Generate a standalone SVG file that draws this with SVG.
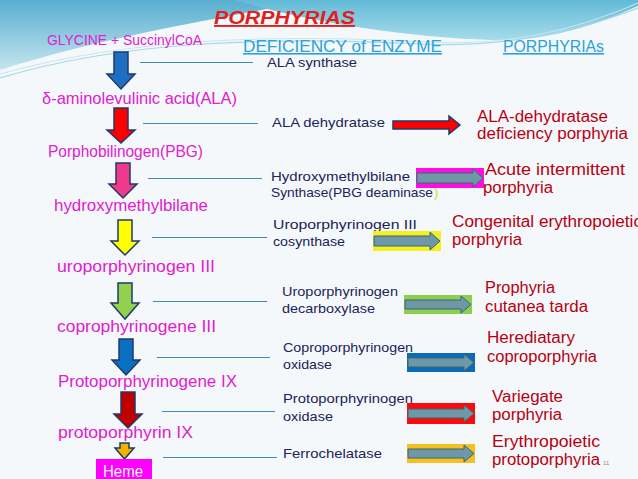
<svg xmlns="http://www.w3.org/2000/svg" width="638" height="479" viewBox="0 0 638 479">
<style>
.m{font-family:"Liberation Sans","DejaVu Sans",sans-serif;font-size:16px;fill:#e020d0}
.e{font-family:"Liberation Sans","DejaVu Sans",sans-serif;font-size:13.5px;fill:#1a2458}
.p{font-family:"Liberation Sans","DejaVu Sans",sans-serif;font-size:16px;fill:#b80010}
.h{font-family:"Liberation Sans","DejaVu Sans",sans-serif;font-size:16px;fill:#2aa2dc;text-decoration:underline}
.ln{stroke:#3b8fb0;stroke-width:1}
.va{stroke:#1f3a6a;stroke-width:1.5;stroke-linejoin:miter}
.ga{fill:#6f98a6;stroke:#3d6474;stroke-width:1}
</style>
<defs>
<linearGradient id="gl" x1="0" y1="0" x2="0" y2="1"><stop offset="0" stop-color="#58aed0"/><stop offset="1" stop-color="#c4e6f0"/></linearGradient>
<linearGradient id="gr" x1="0" y1="0" x2="0" y2="1"><stop offset="0" stop-color="#62bad6"/><stop offset="1" stop-color="#a6dcea"/></linearGradient>
</defs>
<rect width="638" height="479" fill="#f5f8fb"/>
<g id="background">
<path d="M0,0 H310 C230,18 120,32 0,70 Z" fill="url(#gl)"/>
<path d="M235,0 C300,20 400,37 490,40 C545,41 590,28 638,6 V0 Z" fill="url(#gr)"/>
<path d="M0,78 C120,42 260,36 420,44 C500,48 570,34 638,8" fill="none" stroke="#a8d6e6" stroke-width="1.2"/>
<path d="M0,74 C130,38 270,34 430,42 C510,46 575,30 638,3" fill="none" stroke="#c8e6f0" stroke-width="1"/>
</g>
<g id="titles">
<text x="214" y="24" font-family="Liberation Sans,sans-serif" font-size="19" font-weight="bold" font-style="italic" fill="#e0201c" text-decoration="underline" textLength="141" lengthAdjust="spacingAndGlyphs">PORPHYRIAS</text>
<text class="h" x="243" y="52" textLength="199" lengthAdjust="spacingAndGlyphs">DEFICIENCY of ENZYME</text>
<text class="h" x="503" y="52" textLength="101" lengthAdjust="spacingAndGlyphs">PORPHYRIAs</text>
</g>
<g id="connectors">
<line class="ln" x1="140" y1="62.5" x2="253" y2="62.5" stroke="#1f3864"/>
<line class="ln" x1="143" y1="123.5" x2="258" y2="123.5"/>
<line class="ln" x1="148" y1="178.5" x2="262" y2="178.5"/>
<line class="ln" x1="152" y1="237.5" x2="267" y2="237.5"/>
<line class="ln" x1="153" y1="301.5" x2="267" y2="301.5"/>
<line class="ln" x1="157" y1="357.5" x2="270" y2="357.5"/>
<line class="ln" x1="162" y1="411.5" x2="275" y2="411.5"/>
<line class="ln" x1="163" y1="457.5" x2="277" y2="457.5"/>
</g>
<g id="pathway">
<g id="n-glycine"><text class="m" x="47" y="45" style="font-size:14px" textLength="155" lengthAdjust="spacingAndGlyphs">GLYCINE + SuccinylCoA</text></g>
<path class="va" fill="#1e6fc4" d="M114,52 H128 V74 H135 L121,89 L107,74 H114 Z"/>
<g id="n-ala"><text class="m" x="42" y="104" textLength="195" lengthAdjust="spacingAndGlyphs">δ-aminolevulinic acid(ALA)</text></g>
<path class="va" fill="#ff0000" d="M114,108 H128 V130 H135 L121,143 L107,130 H114 Z"/>
<g id="n-pbg"><text class="m" x="48" y="157" textLength="155" lengthAdjust="spacingAndGlyphs">Porphobilinogen(PBG)</text></g>
<path class="va" fill="#f0388c" d="M116,163 H130 V184 H137 L123,198 L109,184 H116 Z"/>
<g id="n-hmb"><text class="m" x="54" y="211" textLength="154" lengthAdjust="spacingAndGlyphs">hydroxymethylbilane</text></g>
<path class="va" fill="#ffff00" d="M118,220 H132 V241 H139 L125,255 L111,241 H118 Z"/>
<g id="n-uro"><text class="m" x="57" y="272" textLength="158" lengthAdjust="spacingAndGlyphs">uroporphyrinogen III</text></g>
<path class="va" fill="#92d050" d="M118,283 H132 V303 H139 L125,319 L111,303 H118 Z"/>
<g id="n-copro"><text class="m" x="57" y="332" textLength="159" lengthAdjust="spacingAndGlyphs">coprophyrinogene III</text></g>
<path class="va" fill="#0a6fc0" d="M119,339 H133 V360 H140 L126,375 L112,360 H119 Z"/>
<g id="n-protogen"><text class="m" x="58" y="387" textLength="179" lengthAdjust="spacingAndGlyphs">Protoporphyrinogene IX</text></g>
<path class="va" fill="#c00000" d="M121,392 H135 V414 H142 L128,428 L114,414 H121 Z"/>
<g id="n-proto"><text class="m" x="58" y="438" textLength="135" lengthAdjust="spacingAndGlyphs">protoporphyrin IX</text></g>
<path class="va" fill="#f0b400" d="M120,443 H129 V448 H134 L124.5,459 L115,448 H120 Z" stroke-width="1.2"/>
<g id="n-heme"><rect x="96" y="459" width="56" height="20" fill="#ff00ff"/><text x="103" y="477" font-family="Liberation Sans,sans-serif" font-size="16" fill="#ffffff" textLength="40" lengthAdjust="spacingAndGlyphs">Heme</text></g>
</g>
<g id="enzymes">
<g id="e1"><text class="e" x="267" y="67" textLength="90" lengthAdjust="spacingAndGlyphs">ALA synthase</text></g>
<g id="e2"><text class="e" x="272" y="127" textLength="113" lengthAdjust="spacingAndGlyphs">ALA dehydratase</text>
<path class="va" fill="#ff0000" d="M393,121 H449 V116 L460,125 L449,134 V129 H393 Z" stroke-width="1.2"/></g>
<g id="e3"><text class="e" x="271" y="181" textLength="139" lengthAdjust="spacingAndGlyphs">Hydroxymethylbilane</text>
<text class="e" x="271" y="197" textLength="162" lengthAdjust="spacingAndGlyphs">Synthase(PBG deaminase</text><text class="e" x="434" y="197" style="fill:#f0d000">)</text>
<rect x="416" y="168" width="68" height="20" fill="#ff10e0"/>
<path class="ga" d="M417,173 H473 V169 L483,178 L473,187 V183 H417 Z"/></g>
<g id="e4"><text class="e" x="273" y="229" textLength="144" lengthAdjust="spacingAndGlyphs">Uroporphyrinogen III</text>
<text class="e" x="273" y="246" textLength="72" lengthAdjust="spacingAndGlyphs">cosynthase</text>
<rect x="373" y="231" width="68" height="20" fill="#f4f020"/>
<path class="ga" d="M374,236 H430 V232 L440,241 L430,250 V246 H374 Z"/></g>
<g id="e5"><text class="e" x="282" y="296" textLength="116" lengthAdjust="spacingAndGlyphs">Uroporphyrinogen</text>
<text class="e" x="282" y="313" textLength="93" lengthAdjust="spacingAndGlyphs">decarboxylase</text>
<rect x="404" y="295" width="68" height="19" fill="#8ccf50"/>
<path class="ga" d="M405,300 H461 V296 L471,304.5 L461,313 V309 H405 Z"/></g>
<g id="e6"><text class="e" x="283" y="352" textLength="130" lengthAdjust="spacingAndGlyphs">Coproporphyrinogen</text>
<text class="e" x="283" y="369" textLength="49" lengthAdjust="spacingAndGlyphs">oxidase</text>
<rect x="407" y="353" width="68" height="19" fill="#0a6cb8"/>
<path class="ga" d="M408,358 H464 V354 L474,362.5 L464,371 V367 H408 Z"/></g>
<g id="e7"><text class="e" x="283" y="403" textLength="130" lengthAdjust="spacingAndGlyphs">Protoporphyrinogen</text>
<text class="e" x="283" y="421" textLength="50" lengthAdjust="spacingAndGlyphs">oxidase</text>
<rect x="407" y="403" width="68" height="21" fill="#ff0a0a"/>
<path class="ga" d="M408,409 H464 V405 L474,413.5 L464,422 V418 H408 Z"/></g>
<g id="e8"><text class="e" x="283" y="458" textLength="99" lengthAdjust="spacingAndGlyphs">Ferrochelatase</text>
<rect x="407" y="444" width="68" height="19" fill="#f5c020"/>
<path class="ga" d="M408,449 H464 V445 L474,453.5 L464,462 V458 H408 Z"/></g>
</g>
<g id="porphyrias">
<g id="p1"><text class="p" x="477" y="122" textLength="131" lengthAdjust="spacingAndGlyphs">ALA-dehydratase</text><text class="p" x="477" y="139" textLength="151" lengthAdjust="spacingAndGlyphs">deficiency porphyria</text></g>
<g id="p2"><text class="p" x="485" y="175" textLength="140" lengthAdjust="spacingAndGlyphs">Acute intermittent</text><text class="p" x="483" y="193" textLength="70" lengthAdjust="spacingAndGlyphs">porphyria</text></g>
<g id="p3"><text class="p" x="452" y="227" textLength="190" lengthAdjust="spacingAndGlyphs">Congenital erythropoietic</text><text class="p" x="452" y="245" textLength="70" lengthAdjust="spacingAndGlyphs">porphyria</text></g>
<g id="p4"><text class="p" x="485" y="293" textLength="70" lengthAdjust="spacingAndGlyphs">Prophyria</text><text class="p" x="485" y="312" textLength="103" lengthAdjust="spacingAndGlyphs">cutanea tarda</text></g>
<g id="p5"><text class="p" x="487" y="343" textLength="88" lengthAdjust="spacingAndGlyphs">Herediatary</text><text class="p" x="487" y="362" textLength="110" lengthAdjust="spacingAndGlyphs">coproporphyria</text></g>
<g id="p6"><text class="p" x="492" y="402" textLength="71" lengthAdjust="spacingAndGlyphs">Variegate</text><text class="p" x="492" y="420" textLength="70" lengthAdjust="spacingAndGlyphs">porphyria</text></g>
<g id="p7"><text class="p" x="492" y="447" textLength="108" lengthAdjust="spacingAndGlyphs">Erythropoietic</text><text class="p" x="492" y="465" textLength="108" lengthAdjust="spacingAndGlyphs">protoporphyria</text></g>
<text x="603" y="465" font-family="Liberation Sans,sans-serif" font-size="6" fill="#8a8a8a">11</text>
</g>
</svg>
